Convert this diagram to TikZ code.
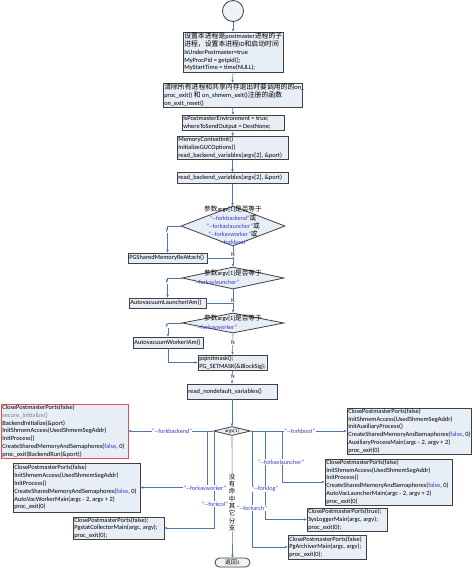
\documentclass[tikz,border=0pt]{standalone}
\usepackage{fontspec}
\setmainfont{Carlito}
\newfontfamily\cjk{Noto Sans CJK SC}[Scale=1.07]
\usetikzlibrary{arrows.meta,shapes.geometric}
\definecolor{boxfill}{HTML}{E8EEF6}
\definecolor{boxdraw}{HTML}{404040}
\definecolor{conn}{HTML}{5075B0}
\definecolor{lab}{HTML}{3C3CC8}
\definecolor{redline}{HTML}{E05050}
\definecolor{circfill}{HTML}{EEF3FA}
\definecolor{termfill}{HTML}{F2F2F2}
\newcommand\bxfont{\fontsize{6.4}{7.8}\selectfont}
\newcommand\lbfont{\fontsize{6.2}{7.4}\selectfont}
\newcommand\ynfont{\fontsize{5.5}{6}\selectfont}
\newcommand\dd{-\kern0pt-}
\begin{document}
\begin{tikzpicture}[x=1pt,y=-1pt,
  bx/.style={draw=boxdraw, fill=boxfill, line width=0.8pt, inner sep=0pt},
  tx/.style={font=\bxfont, align=left, inner xsep=1.5pt, inner ysep=0pt, anchor=west},
  dm/.style={diamond, draw=boxdraw, fill=boxfill, line width=0.8pt, inner sep=0pt},
  conn/.style={draw=conn, line width=0.6pt},
  arr/.style={conn, -{Stealth[length=3pt,width=2.6pt]}},
  lbl/.style={font=\lbfont, text=lab, fill=white, inner sep=0.4pt},
  yn/.style={font=\ynfont, fill=white, inner sep=0.4pt}]
\useasboundingbox (0,0) rectangle (474,572);

% start
\node[circle, draw=boxdraw, fill=circfill, line width=0.8pt, minimum size=21pt, inner sep=0pt] (st) at (233,11) {};

% main chain boxes
\node[bx, minimum width=100pt, minimum height=40pt] (b1) at (233,52) {};
\node[tx] at (b1.west) {{\cjk 设置本进程是}postmaster{\cjk 进程的子}\\
{\cjk 进程，设置本进程}ID{\cjk 和启动时间}\\
IsUnderPostmaster=true\\
MyProcPid = getpid();\\
MyStartTime = time(NULL);};

\node[bx, minimum width=139pt, minimum height=24pt] (b2) at (232.5,95) {};
\node[tx] at (b2.west) {{\cjk 清除所有进程和共享内存退出时要调用的的}on\_\\
proc\_exit() {\cjk 和} on\_shmem\_exit(){\cjk 注册的函数}\\
on\_exit\_reset()};

\node[bx, minimum width=102pt, minimum height=15pt] (b3) at (233,122.5) {};
\node[tx] at (b3.west) {IsPostmasterEnvironment = true;\\
whereToSendOutput = DestNone;};

\node[bx, minimum width=111pt, minimum height=23pt] (b4) at (232.5,148) {};
\node[tx] at (b4.west) {MemoryContextInit()\\
InitializeGUCOptions()\\
read\_backend\_variables(argv[2], \&port)};

\node[bx, minimum width=111pt, minimum height=11pt] (b5) at (232.5,178) {};
\node[tx] at (b5.west) {read\_backend\_variables(argv[2], \&port)};

% diamond 1
\node[dm, minimum width=104pt, minimum height=40pt] (d1) at (233,226) {};
\node[font=\fontsize{6.2}{8.2}\selectfont, align=center, inner sep=0pt] at (233,225.5)
 {{\cjk 参数}argv[1]{\cjk 是否等于}\\
 \textcolor{lab}{"\dd forkbackend"}{\cjk 或}\\
 \textcolor{lab}{"\dd forkavlauncher"}{\cjk 或}\\
 \textcolor{lab}{"\dd forkavworker"}{\cjk 或}\\
 \textcolor{lab}{"\dd forkboot"}};

\node[bx, minimum width=79pt, minimum height=10pt] (pg) at (167.5,258) {};
\node[tx] at (pg.west) {PGSharedMemoryReAttach()};

% diamond 2
\node[dm, minimum width=102pt, minimum height=22pt] (d2) at (233,278) {};
\node[font=\lbfont, inner sep=0pt] at (233,273) {{\cjk 参数}argv[1]{\cjk 是否等于}};
\node[font=\lbfont, text=lab, inner sep=0pt] at (216,282.5) {"\dd forkavlauncher"};

\node[bx, minimum width=77pt, minimum height=10pt] (avl) at (167.5,303) {};
\node[tx] at (avl.west) {AutovacuumLauncherIAm()};

% diamond 3
\node[dm, minimum width=102pt, minimum height=20pt] (d3) at (233,323) {};
\node[font=\lbfont, inner sep=0pt] at (233,318.5) {{\cjk 参数}argv[1]{\cjk 是否等于}};
\node[font=\lbfont, text=lab, inner sep=0pt] at (216,327.5) {"\dd forkavworker"};

\node[bx, minimum width=70pt, minimum height=11pt] (avw) at (168,342.5) {};
\node[tx] at (avw.west) {AutovacuumWorkerIAm()};

\node[bx, minimum width=69pt, minimum height=15pt] (sig) at (232.5,362.5) {};
\node[tx] at (sig.west) {pqinitmask();\\
PG\_SETMASK(\&BlockSig);};

\node[bx, minimum width=90pt, minimum height=15pt] (rnd) at (232,391.5) {};
\node[tx] at (rnd.west) {read\_nondefault\_variables()};

% switch diamond
\node[dm, minimum width=37pt, minimum height=9pt] (d4) at (232,431) {};
\node[font=\fontsize{4.8}{5}\selectfont, inner sep=0pt] at (232,431) {argv[1]};

% terminal
\node[draw=boxdraw, fill=termfill, line width=0.8pt, rounded corners=4.5pt, minimum width=35pt, minimum height=9pt, inner sep=0pt, font=\fontsize{5.5}{6}\selectfont] (end) at (232.5,562.5) {{\cjk 返回}1};

% left boxes
\node[bx, draw=redline, minimum width=127pt, minimum height=54pt] (be) at (64.5,431) {};
\node[tx] at (be.west) {ClosePostmasterPorts(false)\\
\textcolor{gray}{secure\_initialize()}\\
BackendInitialize(\&port)\\
InitShmemAccess(UsedShmemSegAddr)\\
InitProcess()\\
CreateSharedMemoryAndSemaphores(\textcolor{lab}{false}, 0)\\
proc\_exit(BackendRun(\&port))};

\node[bx, minimum width=127pt, minimum height=49pt] (aw) at (76.5,487.5) {};
\node[tx] at (aw.west) {ClosePostmasterPorts(false)\\
InitShmemAccess(UsedShmemSegAddr)\\
InitProcess()\\
CreateSharedMemoryAndSemaphores(\textcolor{lab}{false}, 0)\\
AutoVacWorkerMain(argc - 2, argv + 2)\\
proc\_exit(0)};

\node[bx, minimum width=91pt, minimum height=22pt] (ps) at (118.5,528) {};
\node[tx] at (ps.west) {ClosePostmasterPorts(false);\\
PgstatCollectorMain(argc, argv);\\
proc\_exit(0);};

% right boxes
\node[bx, minimum width=124pt, minimum height=46pt] (bt) at (409,431) {};
\node[tx] at (bt.west) {ClosePostmasterPorts(false)\\
InitShmemAccess(UsedShmemSegAddr)\\
InitAuxiliaryProcess()\\
CreateSharedMemoryAndSemaphores(\textcolor{lab}{false}, 0)\\
AuxiliaryProcessMain(argc - 2, argv + 2)\\
proc\_exit(0)};

\node[bx, minimum width=127pt, minimum height=46pt] (al) at (388.5,482) {};
\node[tx] at (al.west) {ClosePostmasterPorts(false)\\
InitShmemAccess(UsedShmemSegAddr)\\
InitProcess()\\
CreateSharedMemoryAndSemaphores(\textcolor{lab}{false}, 0)\\
AutoVacLauncherMain(argc - 2, argv + 2)\\
proc\_exit(0)};

\node[bx, minimum width=80pt, minimum height=23pt] (sl) at (347,519.5) {};
\node[tx] at (sl.west) {ClosePostmasterPorts(true);\\
SysLoggerMain(argc, argv);\\
proc\_exit(0);};

\node[bx, minimum width=78pt, minimum height=24pt] (pa) at (327,547) {};
\node[tx] at (pa.west) {ClosePostmasterPorts(false)\\
PgArchiverMain(argc, argv);\\
proc\_exit(0);};

% connectors main chain
\draw[arr] (st.south) -- (b1.north);
\draw[arr] (b1.south) -- (b2.north);
\draw[arr] (b2.south) -- (b3.north);
\draw[arr] (b3.south) -- (b4.north);
\draw[arr] (b4.south) -- (b5.north);
\draw[arr] (b5.south) -- ++(0,22);
\draw[arr] (d1.west) -| (pg.north);
\draw[arr] (d1.south) -- (d2.north);
\draw[conn] (pg.east) -- (pg.east -| d1.south);
\draw[arr] (d2.west) -| (avl.north);
\draw[arr] (d2.south) -- (d3.north);
\draw[conn] (avl.east) -- (avl.east -| d2.south);
\draw[arr] (d3.west) -| (avw.north);
\draw[arr] (d3.south) -- (sig.north);
\draw[arr] (avw.south) |- (sig.west);
\draw[arr] (sig.south) -- (rnd.north);
\draw[arr] (rnd.south) -- (d4.north);

% switch connectors
\coordinate (j1) at (207,431);
\coordinate (j2) at (214,431);
\coordinate (j3) at (252,431);
\coordinate (j4) at (265,431);
\coordinate (j5) at (282,431);
\draw[arr] (d4.west) -- (be.east);
\draw[arr] (j1) |- (aw.east);
\draw[arr] (j2) |- (ps.east);
\draw[arr] (d4.east) -- (bt.west);
\draw[arr] (j5) |- (al.west);
\draw[arr] (j4) |- (sl.west);
\draw[arr] (j3) |- (pa.west);
\draw[arr] (d4.south) -- (end.north);

% labels
\node[yn] at (167,231) {Y};
\node[yn] at (167,282) {Y};
\node[yn] at (167,326) {Y};
\node[yn] at (233,255) {N};
\node[yn] at (233,301) {N};
\node[yn] at (233,343) {N};
\node[yn] at (233,377) {N};
\node[lbl] at (172,431) {"\dd forkbackend"};
\node[lbl] at (205,488) {"\dd forkavworker"};
\node[lbl] at (215,504) {"\dd forkcol"};
\node[lbl] at (300,431) {"\dd forkboot"};
\node[lbl] at (281,462) {"\dd forkavlauncher"};
\node[lbl] at (265,489) {"\dd forklog"};
\node[lbl] at (252,508) {"\dd forkarch"};
\node[fill=white, inner sep=0.3pt, align=center, font={\cjk\fontsize{6}{7.3}\selectfont}] at (232,502.5) {没\\有\\命\\中\\其\\它\\分\\支};
\end{tikzpicture}
\end{document}
